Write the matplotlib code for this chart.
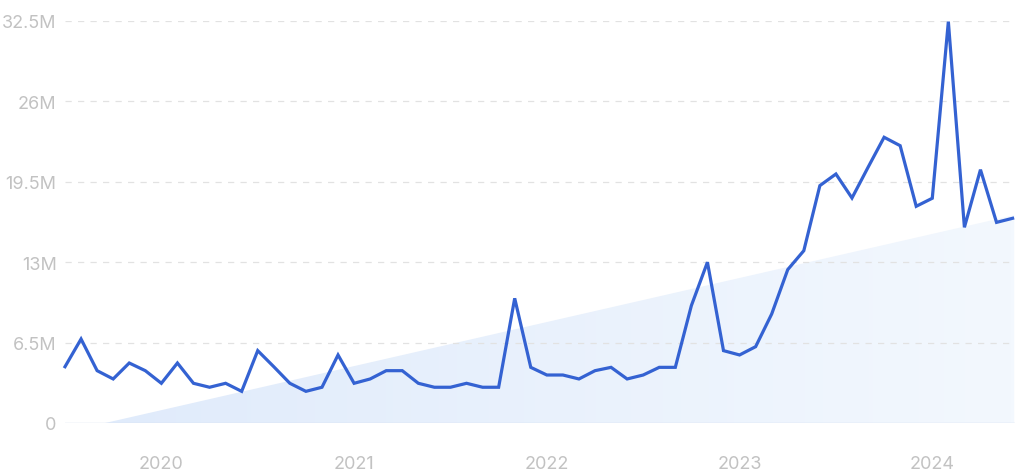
import numpy as np
import matplotlib
matplotlib.use("Agg")
import matplotlib.pyplot as plt
from matplotlib.patches import Polygon

# monthly values, Jul 2019 .. Jun 2024 (millions)
months = np.arange(2019 + 6/12, 2024 + 6/12 - 1e-9, 1/12)
values = [4.55, 6.79, 4.23, 3.56, 4.85, 4.23,
          3.21, 4.85, 3.21, 2.89, 3.21, 2.56, 5.85, 4.55, 3.21, 2.56, 2.89, 5.5,
          3.21, 3.56, 4.23, 4.23, 3.21, 2.89, 2.89, 3.21, 2.89, 2.89, 10.08, 4.5,
          3.88, 3.88, 3.56, 4.23, 4.5, 3.56, 3.88, 4.5, 4.5, 9.49, 13.0, 5.85,
          5.5, 6.17, 8.81, 12.4, 13.93, 19.19, 20.13, 18.19, 20.67, 23.1, 22.42, 17.52,
          18.17, 32.45, 15.82, 20.48, 16.22, 16.55]

# trend wedge (start, end)
trend_x = [2019 + 8.5/12, 2024 + 5.1/12]
trend_y = [0.0, 16.8]

yticks = [0, 6.5, 13, 19.5, 26, 32.5]
ytick_labels = ["0", "6.5M", "13M", "19.5M", "26M", "32.5M"]
xticks = [2020, 2021, 2022, 2023, 2024]
xtick_labels = ["2020", "2021", "2022", "2023", "2024"]

plt.rcParams['font.family'] = ['Inter', 'DejaVu Sans']

fig = plt.figure(figsize=(10.24, 4.77), dpi=100)
ax = fig.add_axes([65/1024, 53/477, 950/1024, 402/477])

ax.set_xlim(months[0], months[-1] + 0.15/12)
ax.set_ylim(0, 32.5)

# gradient fill under the trend
poly = Polygon([(trend_x[0], 0), (trend_x[1], trend_y[1]), (trend_x[1], 0)],
               closed=True, facecolor='none', edgecolor='none')
ax.add_patch(poly)
grad = np.linspace(0, 1, 256).reshape(1, -1)
cmap = matplotlib.colors.LinearSegmentedColormap.from_list(
    "g", ["#e0ebfb", "#f3f8fe"])
im = ax.imshow(grad, extent=[trend_x[0], trend_x[1], 0, trend_y[1]],
               aspect='auto', cmap=cmap, origin='lower', zorder=1)
im.set_clip_path(poly)

for y in yticks[1:]:
    ax.axhline(y, color="#e2e2e2", lw=0.9, ls=(0, (5, 5)), zorder=2)
ax.axhline(0, color="#d3ddee", lw=1.0, zorder=2)

ax.plot(months, values, color="#3462d2", lw=2.3, zorder=3, clip_on=False,
        solid_joinstyle='miter')

ax.set_yticks(yticks)
ax.set_yticklabels(ytick_labels)
ax.set_xticks(xticks)
ax.set_xticklabels(xtick_labels)
ax.tick_params(axis='both', length=0, labelsize=13, labelcolor="#c2c2c2")
ax.tick_params(axis='y', pad=6)
ax.tick_params(axis='x', pad=23)
for s in ax.spines.values():
    s.set_visible(False)

plt.savefig("out.png", dpi=100)
